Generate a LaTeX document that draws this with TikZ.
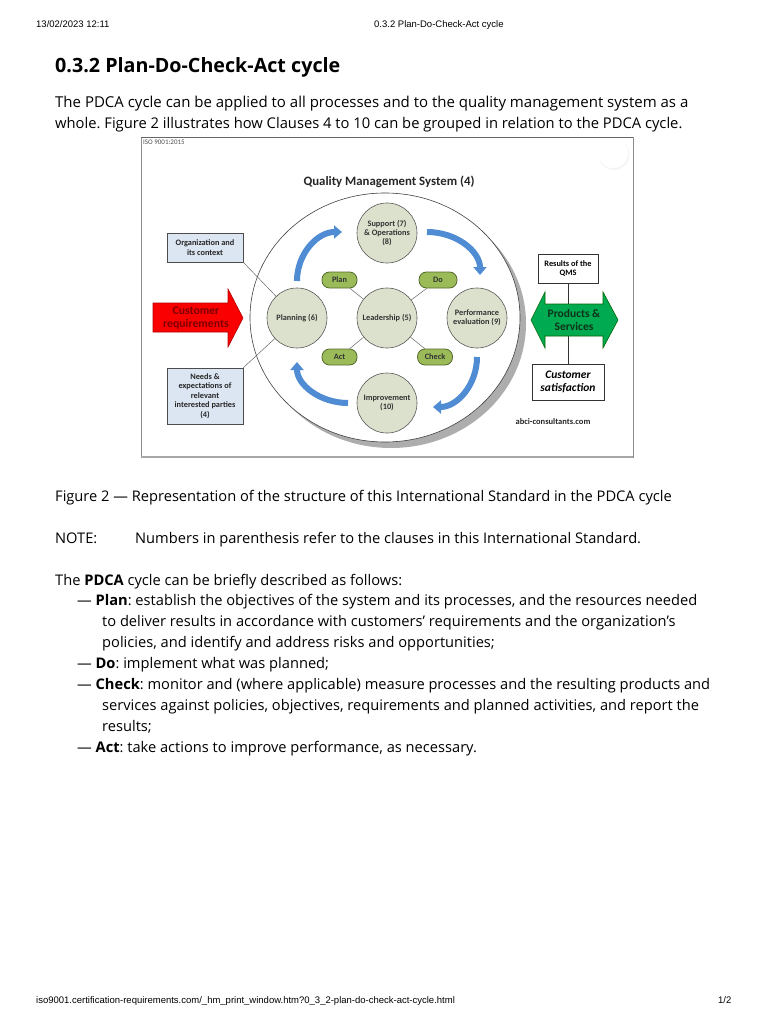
\documentclass[tikz,border=0pt]{standalone}
\usepackage{fontspec}
\setmainfont{Open Sans}
\newfontfamily\hdrfont{Liberation Sans}
\newfontfamily\figfont{Carlito}
\usetikzlibrary{arrows.meta,shapes.geometric}
\frenchspacing
\definecolor{circfill}{RGB}{220,225,205}
\definecolor{pillfill}{RGB}{155,187,89}
\definecolor{pilldraw}{RGB}{85,105,45}
\definecolor{cycblue}{RGB}{80,140,212}
\definecolor{boxblue}{RGB}{220,230,242}
\definecolor{redarr}{RGB}{250,0,0}
\definecolor{redtext}{RGB}{125,0,0}
\definecolor{greenarr}{RGB}{0,170,80}
\definecolor{greentext}{RGB}{15,50,25}
\tikzset{
  hdr/.style={anchor=base west, inner sep=0, font=\hdrfont\fontsize{9.5}{11}\selectfont},
  body/.style={anchor=base west, inner sep=0, font=\fontsize{14.65}{21}\selectfont},
  proc/.style={circle, draw=black!65, fill=circfill, minimum size=60pt, inner sep=0, align=center,
    font=\figfont\bfseries\fontsize{8.3}{9.4}\selectfont, text=black!80, line width=0.6pt},
  pill/.style={rounded corners=7.5pt, draw=pilldraw, fill=pillfill, minimum width=35pt, minimum height=16pt,
    inner sep=0, font=\figfont\bfseries\fontsize{8.3}{9.4}\selectfont, text=black!80, line width=0.8pt},
  infobox/.style={draw=black!70, fill=boxblue, inner sep=0, align=center, line width=0.6pt,
    font=\figfont\bfseries\fontsize{8.3}{9.6}\selectfont, text=black!85},
  whitebox/.style={draw=black!80, fill=white, inner sep=0, align=center, line width=0.7pt},
  link/.style={draw=black!60, line width=0.5pt},
  cycarrow/.style={draw=cycblue, line width=6pt, -{Triangle[width=13pt,length=8pt]}}
}
\begin{document}
\begin{tikzpicture}[x=1pt,y=-1pt]
\useasboundingbox (0,0) rectangle (768,1024);
\fill[white] (0,0) rectangle (768,1024);
% header
\node[hdr] (date) at (36,27.5) {13/02/2023 12:11};
\node[hdr] (htitle) at (374,27.5) {0.3.2 Plan-Do-Check-Act cycle};
% title and paragraph
\node[anchor=base west, inner sep=0, font=\bfseries\fontsize{19.7}{24}\selectfont] (title) at (55,73) {0.3.2 Plan-Do-Check-Act cycle};
\node[body, font=\fontsize{15}{21}\selectfont] (p1) at (55,108) {The PDCA cycle can be applied to all processes and to the quality management system as a};
\node[body, font=\fontsize{14.75}{21}\selectfont] (p2) at (55,129) {whole. Figure 2 illustrates how Clauses 4 to 10 can be grouped in relation to the PDCA cycle.};
% figure frame
\draw[black!45, line width=0.8pt] (141,137) rectangle (633,457);
\draw[black!60, line width=0.8pt] (141,137) -- (633,137);
\draw[black!35, line width=2pt] (141,457) -- (633,457);
\fill[black!4] (614,154.5) circle[radius=15.5];
\fill[white] (613,153) circle[radius=15];
\node[anchor=base west, inner sep=0, font=\figfont\fontsize{7}{8}\selectfont, text=black!70] (iso) at (143,145) {ISO 9001:2015};
\node[font=\figfont\bfseries\fontsize{12.8}{14}\selectfont, text=black!85, inner sep=0] (qmstitle) at (389,182) {Quality Management System (4)};
% big ellipse with shadow
\fill[black!32] (391,323.5) ellipse[x radius=135, y radius=124.5];
\node[ellipse, draw=black!75, fill=white, line width=0.6pt, minimum width=270pt, minimum height=249pt, inner sep=0] (qms) at (385,317.5) {};
% cycle arrows
\draw[cycarrow] (297,281) arc[start angle=180, end angle=270, x radius=45, y radius=49];
\draw[cycarrow] (427,232) arc[start angle=270, end angle=360, x radius=53, y radius=43];
\draw[cycarrow] (477,357) arc[start angle=0, end angle=90, x radius=44, y radius=50];
\draw[cycarrow] (348,403) arc[start angle=90, end angle=180, x radius=51, y radius=41];
% process circles
\node[proc] (supp) at (387,233) {Support (7)\\\& Operations\\(8)};
\node[proc] (plan) at (297,318) {Planning (6)};
\node[proc] (lead) at (387,318) {Leadership (5)};
\node[proc] (perf) at (477,318) {Performance\\evaluation (9)};
\node[proc] (impr) at (387,403) {Improvement\\(10)};
% pills
\node[pill] (pPlan) at (339.5,280) {Plan};
\node[pill, minimum width=38pt] (pDo) at (438,280) {Do};
\node[pill] (pAct) at (339.5,357) {Act};
\node[pill] (pCheck) at (435,357) {Check};
\draw[link] (pPlan) -- (lead);
\draw[link] (pDo) -- (lead);
\draw[link] (pAct) -- (lead);
\draw[link] (pCheck) -- (lead);
% left boxes
\node[infobox, minimum width=76pt, minimum height=29pt] (org) at (205,247.5) {Organization and\\its context};
\node[infobox, minimum width=76pt, minimum height=56pt] (needs) at (205,396) {Needs \&\\expectations of\\relevant\\interested parties\\(4)};
\draw[link] (org.south east) -- (plan);
\draw[link] (needs.north east) -- (plan);
% red arrow
\draw[fill=redarr, draw=red!70!black, line width=0.6pt] (153,303) -- (228,303) -- (228,289) -- (243,318) -- (228,347) -- (228,332) -- (153,332) -- cycle;
\node[align=center, inner sep=0, font=\figfont\bfseries\fontsize{11.7}{13}\selectfont, text=redtext] (custreq) at (196,318) {Customer\\requirements};
% right side
\node[whitebox, minimum width=60pt, minimum height=29pt, font=\figfont\bfseries\fontsize{8.3}{9.6}\selectfont] (results) at (568,268.5) {Results of the\\QMS};
\node[whitebox, minimum width=72pt, minimum height=36pt, font=\figfont\bfseries\itshape\fontsize{11.5}{13.3}\selectfont] (custsat) at (568,382) {Customer\\satisfaction};
\draw[link, draw=black!80] (results.south) -- (custsat.north);
\draw[fill=greenarr, draw=green!40!black, line width=0.6pt] (531,320) -- (545,292) -- (545,304) -- (603,304) -- (603,292) -- (618,320) -- (603,348) -- (603,336) -- (545,336) -- (545,348) -- cycle;
\node[align=center, inner sep=0, font=\figfont\bfseries\fontsize{11.5}{13.3}\selectfont, text=greentext] (prodserv) at (574,320) {Products \&\\Services};
\node[inner sep=0, font=\figfont\bfseries\fontsize{8.5}{10}\selectfont, text=black!85] (abci) at (553,422) {abci-consultants.com};
% text below figure
\node[body] (cap) at (55,501) {Figure 2 — Representation of the structure of this International Standard in the PDCA cycle};
\node[body] (note) at (55,543) {NOTE:};
\node[body] (notetext) at (135,543) {Numbers in parenthesis refer to the clauses in this International Standard.};
\node[body] (intro) at (55,585) {The \textbf{PDCA} cycle can be briefly described as follows:};
\node[body] (l1) at (77,605.9) {— \textbf{Plan}: establish the objectives of the system and its processes, and the resources needed};
\node[body] (l2) at (102,626.8) {to deliver results in accordance with customers’ requirements and the organization’s};
\node[body] (l3) at (102,647.7) {policies, and identify and address risks and opportunities;};
\node[body] (l4) at (77,668.6) {— \textbf{Do}: implement what was planned;};
\node[body] (l5) at (77,689.5) {— \textbf{Check}: monitor and (where applicable) measure processes and the resulting products and};
\node[body] (l6) at (102,710.4) {services against policies, objectives, requirements and planned activities, and report the};
\node[body] (l7) at (102,731.3) {results;};
\node[body] (l8) at (77,752.2) {— \textbf{Act}: take actions to improve performance, as necessary.};
% footer
\node[hdr] (url) at (36,1003.5) {iso9001.certification-requirements.com/\_hm\_print\_window.htm?0\_3\_2-plan-do-check-act-cycle.html};
\node[hdr] (page) at (718,1003.5) {1/2};
\end{tikzpicture}
\end{document}
